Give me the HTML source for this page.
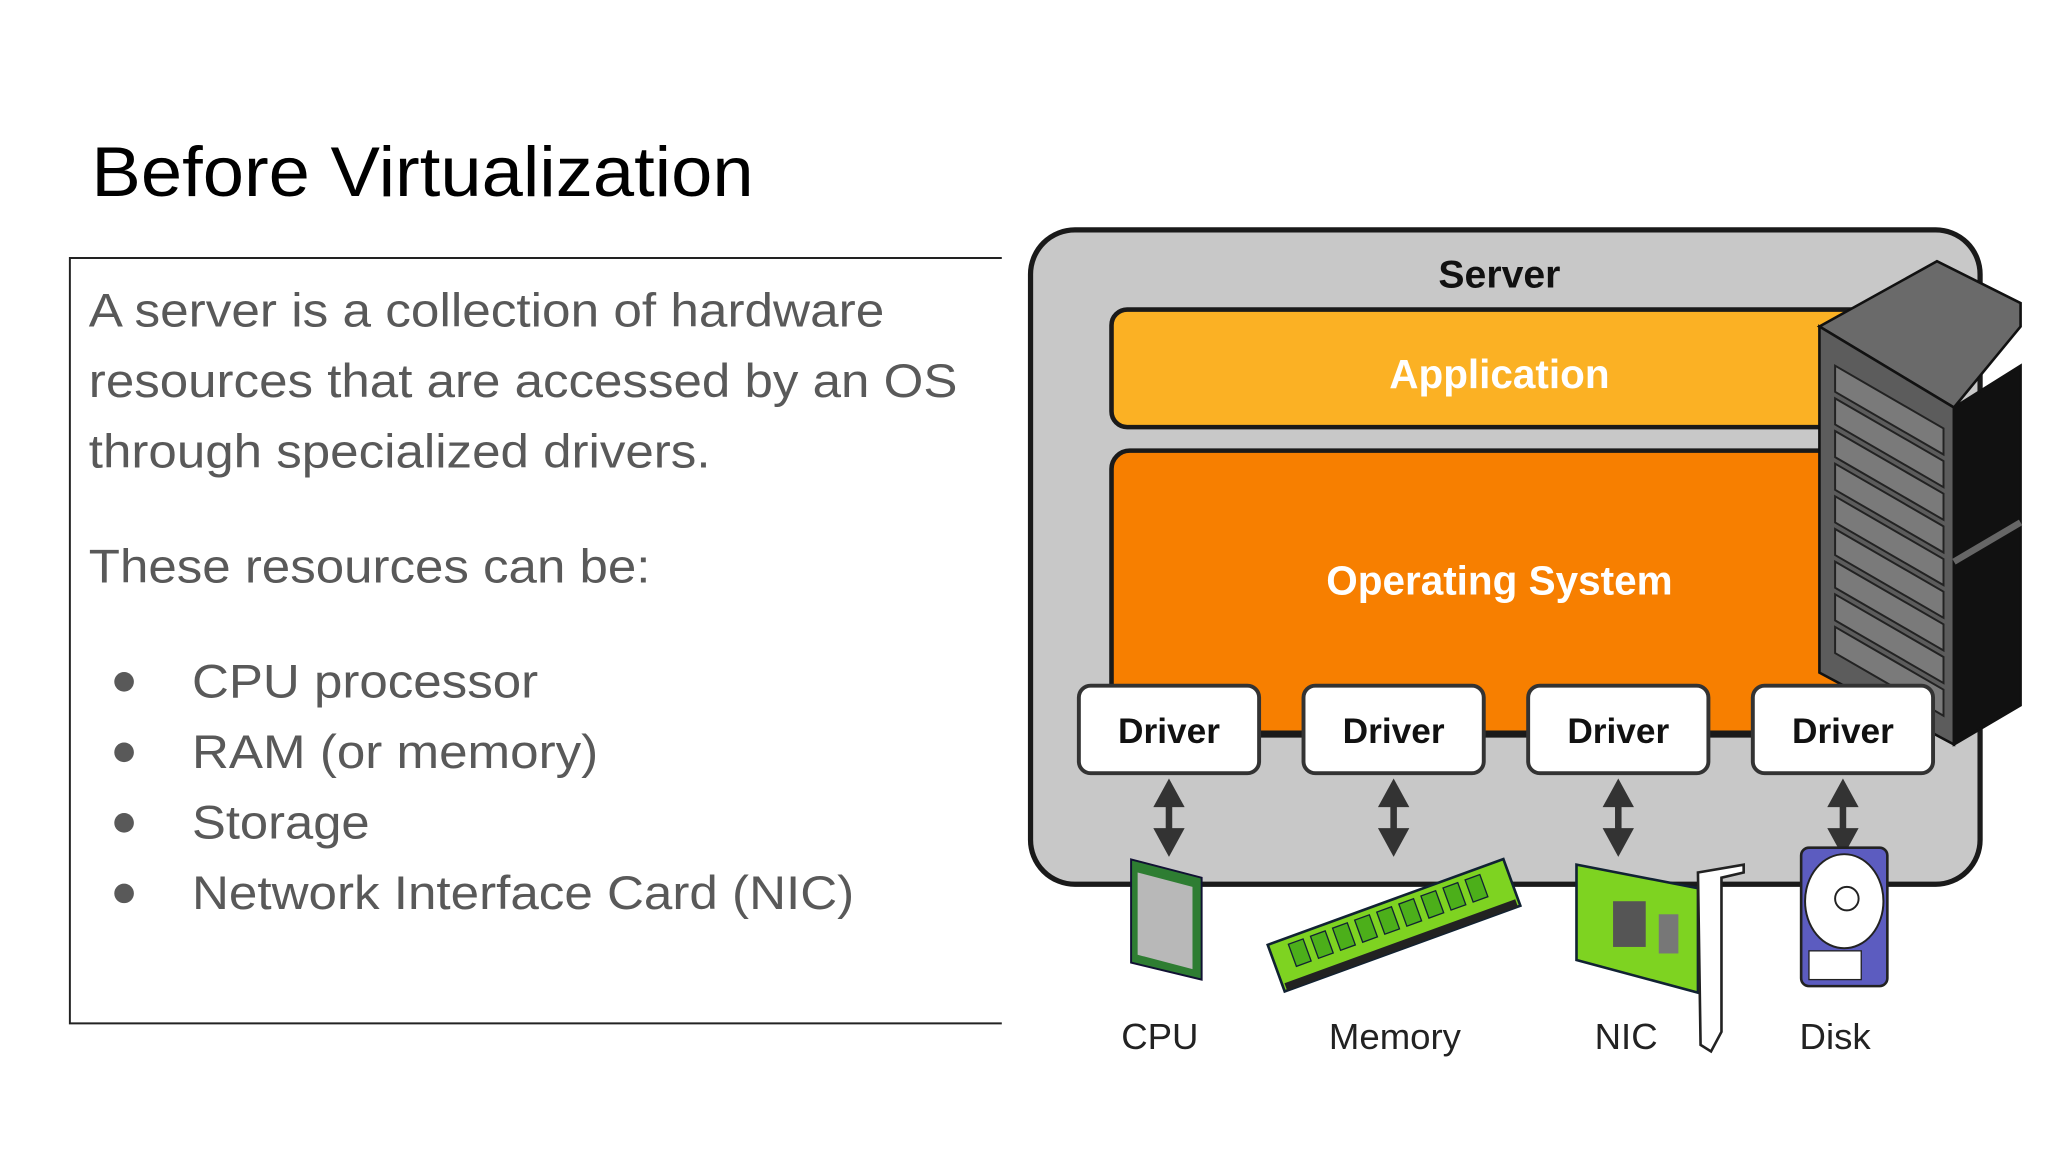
<!DOCTYPE html>
<html><head><meta charset="utf-8"><style>
html,body{margin:0;padding:0;background:#fff;}
svg{display:block;}
</style></head><body>
<svg width="2048" height="1152" viewBox="0 0 1568 882" xmlns="http://www.w3.org/2000/svg" font-family="Liberation Sans, Arial, sans-serif">
<rect width="1568" height="882" fill="#fff"/>
<text x="70" y="150" font-size="54" fill="#000" textLength="507" lengthAdjust="spacingAndGlyphs">Before Virtualization</text>
<path d="M767 197.5 H53.5 V783.5 H767" fill="none" stroke="#222" stroke-width="1.5"/>
<g fill="#595959" font-size="36">
<text x="68" y="250" textLength="609" lengthAdjust="spacingAndGlyphs">A server is a collection of hardware</text>
<text x="68" y="304" textLength="665" lengthAdjust="spacingAndGlyphs">resources that are accessed by an OS</text>
<text x="68" y="358" textLength="476" lengthAdjust="spacingAndGlyphs">through specialized drivers.</text>
<text x="68" y="446" textLength="430" lengthAdjust="spacingAndGlyphs">These resources can be:</text>
<circle cx="95" cy="522" r="7.5"/><text x="147" y="534" textLength="265" lengthAdjust="spacingAndGlyphs">CPU processor</text>
<circle cx="95" cy="576" r="7.5"/><text x="147" y="588" textLength="311" lengthAdjust="spacingAndGlyphs">RAM (or memory)</text>
<circle cx="95" cy="630" r="7.5"/><text x="147" y="642" textLength="136" lengthAdjust="spacingAndGlyphs">Storage</text>
<circle cx="95" cy="684" r="7.5"/><text x="147" y="696" textLength="507" lengthAdjust="spacingAndGlyphs">Network Interface Card (NIC)</text>
</g>
<!-- server box -->
<rect x="789" y="176" width="727" height="501" rx="34" fill="#c8c8c8" stroke="#1a1a1a" stroke-width="4"/>
<text x="1148" y="220" font-size="30" font-weight="bold" fill="#111" text-anchor="middle">Server</text>
<rect x="851" y="237" width="600" height="90" rx="12" fill="#fbb124" stroke="#1a1a1a" stroke-width="3.5"/>
<text x="1148" y="297" font-size="31" font-weight="bold" fill="#fff" text-anchor="middle">Application</text>
<rect x="851" y="345" width="600" height="218" rx="14" fill="#f77f00" stroke="#1a1a1a" stroke-width="3.5"/>
<text x="1148" y="455" font-size="31" font-weight="bold" fill="#fff" text-anchor="middle">Operating System</text>
<line x1="960" y1="561" x2="1350" y2="561" stroke="#1a1a1a" stroke-width="3.5"/>
<g stroke="#333" stroke-width="3" fill="#fff">
<rect x="826" y="525" width="138" height="67" rx="9"/>
<rect x="998" y="525" width="138" height="67" rx="9"/>
<rect x="1170" y="525" width="138" height="67" rx="9"/>
</g>
<!-- server tower -->
<polygon points="1393,250 1483,200 1547,232 1547,250 1496,312" fill="#6a6a6a" stroke="#111" stroke-width="2"/>
<polygon points="1393,250 1496,312 1496,570 1393,515" fill="#5c5c5c" stroke="#111" stroke-width="2"/>
<polygon points="1496,312 1547,280 1547,540 1496,570" fill="#111" stroke="#111" stroke-width="2"/>
<line x1="1496" y1="430" x2="1547" y2="400" stroke="#666" stroke-width="5"/>
<g stroke="#222" stroke-width="1.5" fill="#7a7a7a">
<polygon points="1405,280 1488,328 1488,348 1405,300"/>
<polygon points="1405,305 1488,353 1488,373 1405,325"/>
<polygon points="1405,330 1488,378 1488,398 1405,350"/>
<polygon points="1405,355 1488,403 1488,423 1405,375"/>
<polygon points="1405,380 1488,428 1488,448 1405,400"/>
<polygon points="1405,405 1488,453 1488,473 1405,425"/>
<polygon points="1405,430 1488,478 1488,498 1405,450"/>
<polygon points="1405,455 1488,503 1488,523 1405,475"/>
<polygon points="1405,480 1488,528 1488,548 1405,500"/>
</g>
<rect x="1342" y="525" width="138" height="67" rx="9" fill="#fff" stroke="#333" stroke-width="3"/>
<g font-size="27" font-weight="bold" fill="#111" text-anchor="middle">
<text x="895" y="569">Driver</text><text x="1067" y="569">Driver</text><text x="1239" y="569">Driver</text><text x="1411" y="569">Driver</text>
</g>
<!-- arrows -->
<g fill="#333" stroke="#333">
<g id="ar"><line x1="895" y1="605" x2="895" y2="646" stroke-width="5"/><polygon points="895,596 883,618 907,618" stroke="none"/><polygon points="895,656 883,634 907,634" stroke="none"/></g>
<use href="#ar" x="172"/><use href="#ar" x="344"/><use href="#ar" x="516"/>
</g>
<!-- CPU -->
<polygon points="866,658 920,672 920,750 866,737" fill="#2e7d32" stroke="#113" stroke-width="1.5"/>
<polygon points="871,668 913,679 913,742 871,731" fill="#b8b8b8"/>
<!-- Memory -->
<g transform="rotate(-20 1065 705)">
<rect x="970" y="690" width="192" height="38" fill="#7ed321" stroke="#123" stroke-width="2"/>
<g fill="#4caf1a" stroke="#123" stroke-width="1">
<rect x="985" y="695" width="12" height="18"/><rect x="1003" y="695" width="12" height="18"/><rect x="1021" y="695" width="12" height="18"/><rect x="1039" y="695" width="12" height="18"/><rect x="1057" y="695" width="12" height="18"/><rect x="1075" y="695" width="12" height="18"/><rect x="1093" y="695" width="12" height="18"/><rect x="1111" y="695" width="12" height="18"/><rect x="1129" y="695" width="12" height="18"/>
</g>
<rect x="972" y="722" width="188" height="6" fill="#222"/>
</g>
<!-- NIC -->
<polygon points="1207,662 1300,680 1300,760 1207,735" fill="#7ed321" stroke="#123" stroke-width="2"/>
<rect x="1235" y="690" width="25" height="35" fill="#555"/>
<rect x="1270" y="700" width="15" height="30" fill="#777"/>
<polygon points="1300,668 1335,662 1335,668 1318,672 1318,790 1310,805 1302,800" fill="#fff" stroke="#222" stroke-width="2"/>
<!-- Disk -->
<rect x="1379" y="649" width="66" height="106" rx="6" fill="#5c5cc0" stroke="#222" stroke-width="2"/>
<ellipse cx="1412" cy="690" rx="30" ry="36" fill="#fff" stroke="#222" stroke-width="1.5"/>
<circle cx="1414" cy="688" r="9" fill="#fff" stroke="#222" stroke-width="1.5"/>
<rect x="1385" y="728" width="40" height="22" fill="#fff" stroke="#222" stroke-width="1"/>
<!-- labels -->
<g font-size="28" fill="#222" text-anchor="middle">
<text x="888" y="803">CPU</text><text x="1068" y="803">Memory</text><text x="1245" y="803">NIC</text><text x="1405" y="803">Disk</text>
</g>
</svg>
</body></html>
